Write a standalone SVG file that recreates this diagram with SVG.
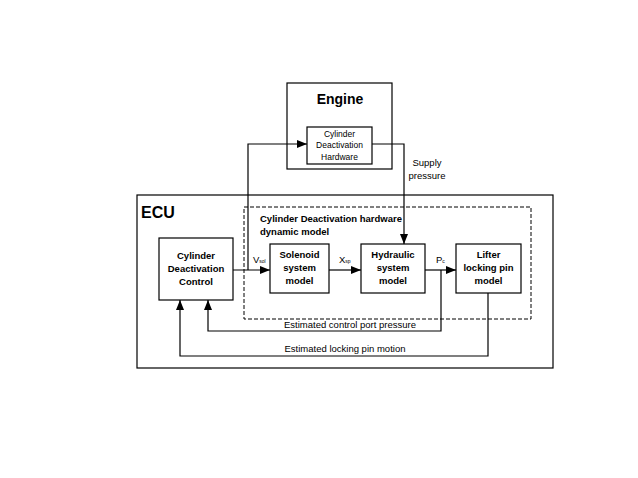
<svg xmlns="http://www.w3.org/2000/svg" width="638" height="478" viewBox="0 0 638 478">
<defs><marker id="a" markerWidth="10" markerHeight="8" refX="10" refY="4" orient="auto" markerUnits="userSpaceOnUse"><path d="M0,0L10,4L0,8z" fill="#000"/></marker></defs>
<style>text{font-family:"Liberation Sans",Arial,sans-serif;font-size:9.5px;fill:#000}.b{font-weight:bold}.box{fill:#fff;stroke:#000;stroke-width:1.2}.c{fill:none;stroke:#000;stroke-width:1.2}</style>
<rect width="638" height="478" fill="#fff"/>
<g id="engine"><rect class="box" x="287" y="83" width="105" height="86"/><text x="340" y="104" text-anchor="middle" class="b" font-size="14" style="font-size:14px">Engine</text></g>
<g id="ecu"><rect class="box" x="137" y="195" width="416" height="173"/><text x="141" y="218" class="b" style="font-size:16px">ECU</text></g>
<g id="dyn"><rect x="244" y="207" width="287" height="112" fill="none" stroke="#000" stroke-dasharray="4,2"/><text x="260" y="222" class="b">Cylinder Deactivation hardware</text><text x="260" y="235" class="b">dynamic model</text></g>
<g id="cdh"><rect class="box" x="307" y="127" width="65" height="37"/><text text-anchor="middle" style="font-size:8.5px"><tspan x="339.5" y="137">Cylinder</tspan><tspan x="339.5" y="148">Deactivation</tspan><tspan x="339.5" y="160">Hardware</tspan></text></g>
<g id="cdc"><rect class="box" x="159" y="238" width="74" height="62"/><text text-anchor="middle" class="b"><tspan x="196" y="259">Cylinder</tspan><tspan x="196" y="272">Deactivation</tspan><tspan x="196" y="285">Control</tspan></text></g>
<g id="sol"><rect class="box" x="270" y="244" width="59" height="49"/><text text-anchor="middle" class="b"><tspan x="299.5" y="258">Solenoid</tspan><tspan x="299.5" y="271">system</tspan><tspan x="299.5" y="284">model</tspan></text></g>
<g id="hyd"><rect class="box" x="361" y="244" width="64" height="49"/><text text-anchor="middle" class="b"><tspan x="393" y="258">Hydraulic</tspan><tspan x="393" y="271">system</tspan><tspan x="393" y="284">model</tspan></text></g>
<g id="lif"><rect class="box" x="456" y="244" width="65" height="49"/><text text-anchor="middle" class="b"><tspan x="488.5" y="258">Lifter</tspan><tspan x="488.5" y="271">locking pin</tspan><tspan x="488.5" y="284">model</tspan></text></g>
<g id="connectors">
<path class="c" d="M233,270H270" marker-end="url(#a)"/>
<path class="c" d="M248,270V144H307" marker-end="url(#a)"/>
<path class="c" d="M372,144H404V244" marker-end="url(#a)"/>
<path class="c" d="M329,270H361" marker-end="url(#a)"/>
<path class="c" d="M425,270H456" marker-end="url(#a)"/>
<path class="c" d="M441,270V331H208V300" marker-end="url(#a)"/>
<path class="c" d="M488,293V356H180V300" marker-end="url(#a)"/>
</g>
<text x="253" y="263">V<tspan style="font-size:5px">sol</tspan></text>
<text x="339" y="263">X<tspan style="font-size:5px">sp</tspan></text>
<text x="436" y="263">P<tspan style="font-size:5px">c</tspan></text>
<text x="427" y="166" text-anchor="middle">Supply</text>
<text x="427" y="179" text-anchor="middle">pressure</text>
<text x="350" y="328" text-anchor="middle">Estimated control port pressure</text>
<text x="345" y="352" text-anchor="middle">Estimated locking pin motion</text>
</svg>
